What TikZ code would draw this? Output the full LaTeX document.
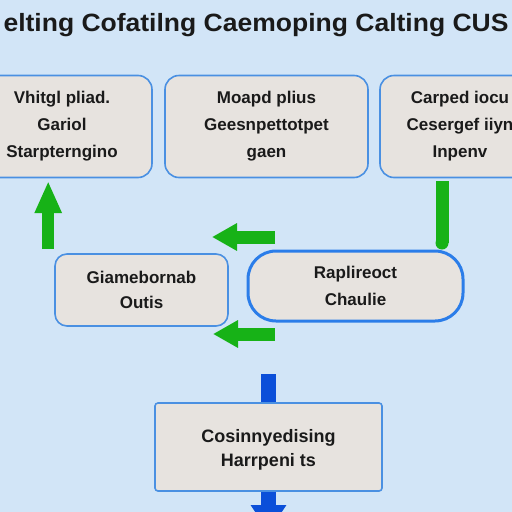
\documentclass[tikz,border=0pt]{standalone}
\usepackage{fontspec}
\setmainfont{Liberation Sans}
\usetikzlibrary{arrows.meta,calc}
\definecolor{bgc}{HTML}{D2E5F7}
\definecolor{boxf}{HTML}{E7E3DF}
\definecolor{boxd}{HTML}{4A90E2}
\definecolor{boxd2}{HTML}{2B7DE9}
\definecolor{grn}{HTML}{17B217}
\definecolor{blu}{HTML}{0B4FD9}
\definecolor{txt}{HTML}{1A1A1A}
\tikzset{
  box/.style={draw=boxd, fill=boxf, line width=1.6pt, rounded corners=14pt, align=center, text=txt,
    font=\fontsize{17}{27}\selectfont\bfseries, inner sep=0pt},
  garrow/.style={draw=grn, line width=13pt, -{Triangle[width=26pt,length=25pt]}},
  gbar/.style={draw=grn, line width=13pt},
  bbar/.style={draw=blu, line width=15pt},
}
\begin{document}
\begin{tikzpicture}[x=1pt,y=-1pt]
\useasboundingbox (0,0) rectangle (512,512);
\clip (0,0) rectangle (512,512);
\fill[bgc] (-5,-5) rectangle (517,517);
% title
\node[anchor=base, text=txt, xscale=1.06, font=\fontsize{25}{25}\selectfont\bfseries] (title) at (256,31) {elting Cofatilng Caemoping Calting CUS};
% top row
\node[box, minimum width=180pt, minimum height=102pt] (b1) at (62,126.5) {Vhitgl pliad.\\Gariol\\Starpterngino};
\node[box, minimum width=203pt, minimum height=102pt] (b2) at (266.5,126.5) {Moapd plius\\Geesnpettotpet\\gaen};
\node[box, minimum width=160pt, minimum height=102pt] (b3) at (460,126.5) {Carped iocu\\Cesergef iiyn\\Inpenv};
% middle row
\node[box, rounded corners=12pt, minimum width=173pt, minimum height=72pt, font=\fontsize{17}{25}\selectfont\bfseries] (b4) at (141.5,290) {Giamebornab\\Outis};
\node[box, draw=boxd2, line width=3pt, rounded corners=28pt, minimum width=215pt, minimum height=70pt, font=\fontsize{17}{27}\selectfont\bfseries] (b5) at (355.5,286) {Raplireoct\\Chaulie};
% bottom
\node[box, rounded corners=3pt, minimum width=227pt, minimum height=88pt] (b6) at (268.5,447) {};
\node[align=center, text=txt, inner sep=0pt, font=\fontsize{18}{24}\selectfont\bfseries] (b6t) at (268.5,450) {Cosinnyedising\\Harrpeni ts};
% connectors
\coordinate (lA) at ([shift={(-6,-4)}]b4.north west);
\coordinate (lB) at (lA |- 0,181);
\draw[garrow, -{Triangle[width=25pt,length=32pt]}, line width=12pt] (lA) -- (lB);
\coordinate (rA) at (442,181);
\coordinate (rB) at (442,243);
\draw[gbar] (rA) -- (rB);
\fill[grn] (rB) circle (6.5pt);
\coordinate (hA) at (275,237);
\coordinate (hB) at (212,237);
\draw[garrow] (hA) -- (hB);
\coordinate (kA) at (275,334);
\coordinate (kB) at (213,334);
\draw[garrow] (kA) -- (kB);
\coordinate (vA) at (268.5,374);
\draw[bbar] (vA) -- (b6.north);
\coordinate (vB) at (268.5,532);
\draw[bbar, -{Triangle[width=34pt,length=27pt]}] (b6.south) -- (vB);
\end{tikzpicture}
\end{document}
